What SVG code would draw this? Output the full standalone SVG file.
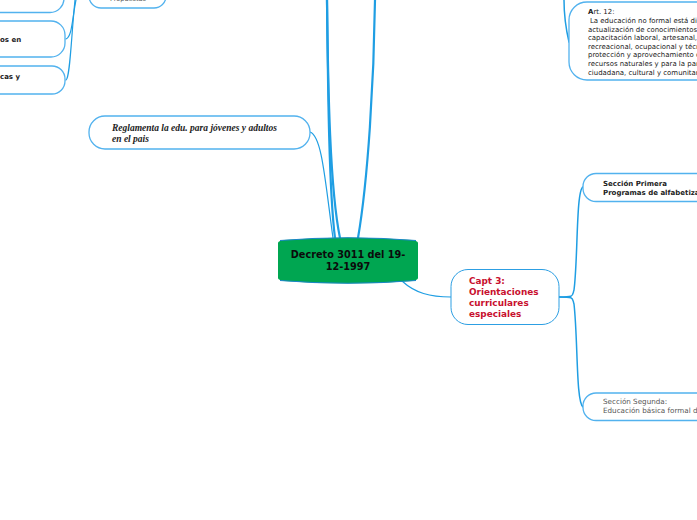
<svg xmlns="http://www.w3.org/2000/svg" width="697" height="520" viewBox="0 0 697 520">
<style>
.c{fill:none;stroke:#1f9ee3;stroke-linecap:round}
.n{fill:#fff;stroke:#52b2ee;stroke-width:1.3}
.t{font-family:"DejaVu Sans",sans-serif;font-weight:bold;font-size:7px;fill:#222}
.s{font-family:"DejaVu Sans",sans-serif;font-size:7.200px;fill:#222;text-rendering:geometricPrecision}
.a{font-size:6.950px}
.g{fill:#555}
.r{font-family:"Liberation Serif",serif;font-weight:bold;font-style:italic;font-size:9.500px;fill:#222}
</style>
<rect width="697" height="520" fill="#fff"/>
<g id="connectors">
<path class="c" stroke-width="2.2" d="M327 0C328 90 329 190 335 238"/>
<path class="c" stroke-width="2.2" d="M375 0C374 80 368 180 358 238"/>
<path class="c" stroke-width="2.2" d="M327 0C328 90 330 190 340 238"/>
<path class="c" stroke-width="1.2" d="M310 132C322 136 325 180 333 238"/>
<path class="c" stroke-width="1.2" d="M402 281C415 293 430 297 451 297"/>
<path class="c" stroke-width="1.5" d="M559 297C575 297 572 296 574 290C578 260 576 190 583 187"/>
<path class="c" stroke-width="1.5" d="M559 297C575 297 572 298 574 304C578 340 576 402 583 407"/>
<path class="c" stroke-width="1.2" d="M66 39C72 37 72 20 76 0"/>
<path class="c" stroke-width="1.2" d="M66 80C70 78 71 40 75 0"/>
<path class="c" stroke-width="1.5" d="M564 0C564 10 565 25 569 42"/>
</g>
<g id="node-left-1"><rect class="n" x="-40" y="-28" width="104" height="40.500" rx="14"/></g>
<g id="node-left-2"><rect class="n" x="-40" y="21" width="105" height="36" rx="14"/><text class="t" x="0" y="42">os en</text></g>
<g id="node-left-3"><rect class="n" x="-40" y="66" width="105" height="28" rx="13"/><text class="t" x="0" y="79">cas y</text></g>
<g id="node-propuestas"><rect class="n" x="89" y="-20" width="77" height="28" rx="12"/><text class="s g" x="110" y="1" style="font-size:6.500px">Propuestas</text></g>
<g id="node-reglamenta"><rect class="n" x="89" y="116" width="221" height="33" rx="16"/><text class="r" x="112" y="131">Reglamenta la edu. para jóvenes y adultos</text><text class="r" x="112" y="142">en el pais</text></g>
<g id="node-art12"><rect class="n" x="569" y="2" width="170" height="78" rx="18"/>
<text class="s a" x="588" y="14"><tspan font-weight="bold">A</tspan>rt. 12:</text>
<text class="s a" x="590" y="23">La educación no formal  está dirigida a la</text>
<text class="s a" x="588" y="32">actualización de conocimientos</text>
<text class="s a" x="588" y="40">capacitación laboral, artesanal,</text>
<text class="s a" x="588" y="49">recreacional, ocupacional y técnica,</text>
<text class="s a" x="588" y="57">protección y aprovechamiento de los</text>
<text class="s a" x="588" y="66">recursos naturales y para la participación</text>
<text class="s a" x="588" y="75">ciudadana, cultural y comunitaria</text></g>
<g id="node-root"><path d="M278 243Q278 241 284 240Q348 235 412 240Q418 241 418 243V278Q418 280 412 281Q348 286 284 281Q278 280 278 278Z" fill="#00a651"/>
<path d="M280 240.500Q348 235 416 240.500M280 280.500Q348 286 416 280.500" fill="none" stroke="#1b86c9" stroke-width="1"/>
<text x="348" y="258" text-anchor="middle" font-family="DejaVu Sans,sans-serif" font-weight="bold" font-size="9.700" fill="#0b0b0b">Decreto 3011 del 19-</text>
<text x="348" y="270" text-anchor="middle" font-family="DejaVu Sans,sans-serif" font-weight="bold" font-size="9.700" fill="#0b0b0b">12-1997</text></g>
<g id="node-capt3"><rect x="451" y="269.500" width="108" height="55" rx="17" fill="#fff" stroke="#2d9fe3" stroke-width="1"/>
<g font-family="DejaVu Sans,sans-serif" font-weight="bold" font-size="8.900" fill="#c8102e"><text x="469" y="284">Capt 3:</text><text x="469" y="295">Orientaciones</text><text x="469" y="306">curriculares</text><text x="469" y="317">especiales</text></g></g>
<g id="node-seccion1"><rect class="n" x="583" y="173.500" width="140" height="28" rx="13"/><text class="t" x="603" y="186">Sección Primera</text><text class="t" x="603" y="195">Programas de alfabetización</text></g>
<g id="node-seccion2"><rect class="n" x="583" y="393" width="140" height="27.500" rx="13"/><text class="s g" x="603" y="404">Sección Segunda:</text><text class="s g" x="603" y="413">Educación básica formal de adultos</text></g>
</svg>
